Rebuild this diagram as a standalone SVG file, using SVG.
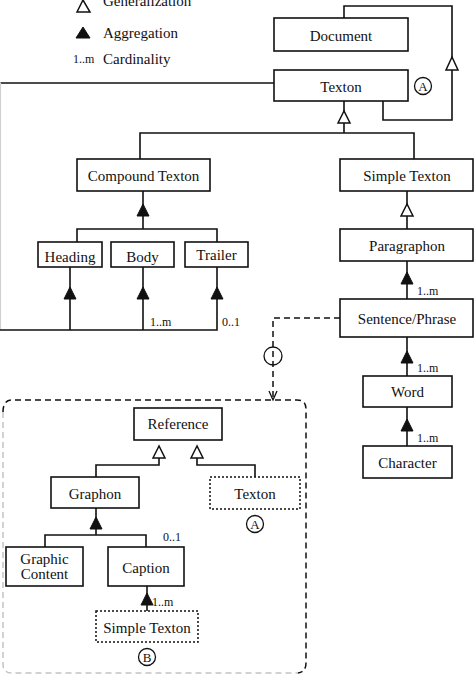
<svg xmlns="http://www.w3.org/2000/svg" width="474" height="675" viewBox="0 0 474 675" font-family="'Liberation Serif', 'DejaVu Serif', serif">
<style>
text{font-family:'Liberation Serif','DejaVu Serif',serif;fill:#111}
.t{font-size:15px;text-anchor:middle}
.l{font-size:15px}
.s{font-size:12px}
.c{font-size:13px;text-anchor:middle}
.box{fill:#fff;stroke:#111;stroke-width:1.6}
.dot{fill:#fff;stroke:#111;stroke-width:1.5;stroke-dasharray:2 2}
.ln{fill:none;stroke:#111;stroke-width:1.6}
.dash{fill:none;stroke:#111;stroke-width:1.5;stroke-dasharray:6 4}
.gen{fill:#fff;stroke:#111;stroke-width:1.5}
.agg{fill:#111;stroke:#111;stroke-width:1}
.circ{fill:#fff;stroke:#111;stroke-width:1.3}
</style>
<rect width="474" height="675" fill="#fff"/>
<g id="legend">
<polygon class="gen" points="83,0 77,12 90,12"/>
<text class="l" x="103" y="6">Generalization</text>
<polygon class="agg" points="83,27 76,38 90,38"/>
<text class="l" x="103" y="38">Aggregation</text>
<text class="s" x="73" y="63">1..m</text>
<text class="l" x="103" y="64">Cardinality</text>
</g>
<g id="connectors">
<path class="ln" d="M344,18 V6 H452 V120 H383 V101"/>
<path class="ln" d="M274,83 H0.5"/>
<path d="M0.5,83 V330" fill="none" stroke="#d0d0d0" stroke-width="1.2"/>
<path class="ln" d="M0,330 H217 V267"/>
<path class="ln" d="M70,330 V267 M143,330 V267"/>
<path class="ln" d="M344,101 V133 M140,159 V133 H414 V159"/>
<path class="ln" d="M143,191 V229 M77,242 V229 H217 V242"/>
<path class="ln" d="M407,191 V229 M407,261 V299 M407,337 V376 M407,407 V446"/>
<path class="dash" d="M340,318 H273 V399"/>
<path class="ln" d="M269,391 L273,400 L277,391" style="stroke-width:1.3"/>
<path class="ln" d="M159,447 V465 H96 V477 M197,447 V465 H255 V477"/>
<path class="ln" d="M96,508 V535 M45,547 V535 H146 V547"/>
<path class="ln" d="M147,586 V611"/>
<path d="M3,412 V664 Q3,673 12,673 H298" fill="none" stroke="#c4c4c4" stroke-width="1.5" stroke-dasharray="6 4"/>
<path class="dash" d="M3,412 Q3,400 12,400 H297 Q306,400 306,409 V663 Q306,672 298,673"/>
<polygon class="gen" points="452,57 446,70 458,70"/>
<polygon class="gen" points="344,111 338,123 350,123"/>
<polygon class="gen" points="407,204 401,216 413,216"/>
<polygon class="gen" points="159,446 153,458 165,458"/>
<polygon class="gen" points="197,446 191,458 203,458"/>
<polygon class="agg" points="143,204 137,216 149,216"/>
<polygon class="agg" points="70,287 64,299 76,299"/>
<polygon class="agg" points="143,287 137,299 149,299"/>
<polygon class="agg" points="217,287 211,299 223,299"/>
<polygon class="agg" points="407,272 401,284 413,284"/>
<polygon class="agg" points="407,351 401,363 413,363"/>
<polygon class="agg" points="407,419 401,431 413,431"/>
<polygon class="agg" points="96,517 90,529 102,529"/>
<polygon class="agg" points="147,593 141,605 153,605"/>
<circle class="circ" cx="273" cy="356" r="9" style="fill:none"/>
<text class="s" x="150" y="326">1..m</text>
<text class="s" x="222" y="326">0..1</text>
<text class="s" x="417" y="295">1..m</text>
<text class="s" x="417" y="372">1..m</text>
<text class="s" x="417" y="442">1..m</text>
<text class="s" x="163" y="541">0..1</text>
<text class="s" x="152" y="606">1..m</text>
</g>
<g id="document"><rect class="box" x="274" y="18" width="134" height="33"/><text class="t" x="341" y="41">Document</text></g>
<g id="texton"><rect class="box" x="274" y="70" width="134" height="31"/><text class="t" x="341" y="91.5">Texton</text>
<circle class="circ" cx="423" cy="86" r="8.5"/><text class="c" x="423" y="90.5">A</text></g>
<g id="compound-texton"><rect class="box" x="77" y="159" width="133" height="32"/><text class="t" x="143.5" y="181">Compound Texton</text></g>
<g id="simple-texton"><rect class="box" x="340" y="159" width="133" height="32"/><text class="t" x="407" y="181">Simple Texton</text></g>
<g id="heading"><rect class="box" x="38" y="242" width="64" height="25"/><text class="t" x="70" y="262">Heading</text></g>
<g id="body"><rect class="box" x="111" y="242" width="63" height="25"/><text class="t" x="142.5" y="262">Body</text></g>
<g id="trailer"><rect class="box" x="185" y="242" width="63" height="25"/><text class="t" x="216.5" y="260">Trailer</text></g>
<g id="paragraphon"><rect class="box" x="340" y="229" width="133" height="32"/><text class="t" x="407" y="251">Paragraphon</text></g>
<g id="sentence"><rect class="box" x="340" y="299" width="133" height="38"/><text class="t" x="407" y="323.5">Sentence/Phrase</text></g>
<g id="word"><rect class="box" x="363" y="376" width="89" height="31"/><text class="t" x="407.5" y="397">Word</text></g>
<g id="character"><rect class="box" x="363" y="446" width="89" height="32"/><text class="t" x="407.5" y="467.5">Character</text></g>
<g id="reference"><rect class="box" x="134" y="408" width="88" height="32"/><text class="t" x="178" y="429">Reference</text></g>
<g id="graphon"><rect class="box" x="51" y="477" width="88" height="31"/><text class="t" x="95" y="499">Graphon</text></g>
<g id="texton-ref"><rect class="dot" x="210" y="477" width="90" height="32"/><text class="t" x="255" y="499">Texton</text>
<circle class="circ" cx="255" cy="524" r="8.5"/><text class="c" x="255" y="528.5">A</text></g>
<g id="graphic-content"><rect class="box" x="6" y="547" width="77" height="39"/><text class="t" x="44.5" y="564">Graphic</text><text class="t" x="44.5" y="579">Content</text></g>
<g id="caption"><rect class="box" x="108" y="547" width="76" height="39"/><text class="t" x="146" y="573">Caption</text></g>
<g id="simple-texton-ref"><rect class="dot" x="96" y="611" width="102" height="31"/><text class="t" x="147" y="633">Simple Texton</text>
<circle class="circ" cx="147" cy="657" r="8.5"/><text class="c" x="147" y="661.5">B</text></g>
</svg>
